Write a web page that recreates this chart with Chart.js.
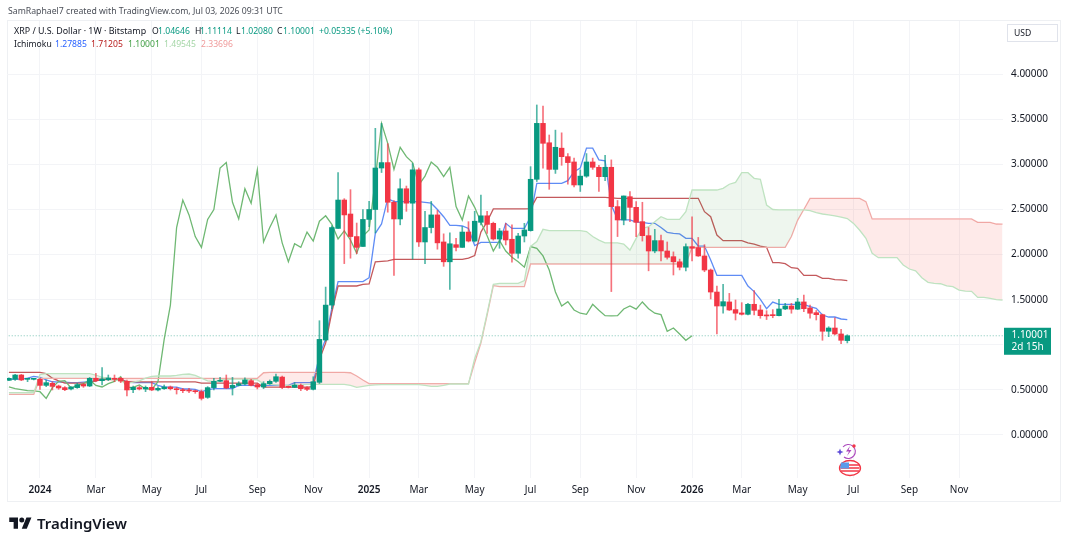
<!DOCTYPE html>
<html>
<head>
<meta charset="utf-8">
<title>XRP / U.S. Dollar</title>
<script src="https://cdn.jsdelivr.net/npm/chart.js@4/dist/chart.umd.min.js"></script>
<style>
  html, body { margin: 0; padding: 0; background: #fff; }
  #page { position: relative; width: 1068px; height: 546px; overflow: hidden; font-family: "Noto Sans", sans-serif; color: #131722; }
  #frame { position: absolute; left: 7px; top: 20px; width: 1052px; height: 480px; border: 1px solid #eef0f3; }
  canvas { position: absolute; left: 0; top: 0; }
  .t { position: absolute; white-space: nowrap; font-size: 8.6px; line-height: 12px; }
  .up { color: #089981; }
  #credit { left: 8px; top: 5px; font-size: 8.7px; color: #4a4e57; }
  #usd { position: absolute; left: 1007px; top: 24px; width: 49px; height: 16px; border: 1px solid #e0e3eb; font-size: 8.6px; line-height: 16px; text-indent: 6px; }
  #logo { position: absolute; left: 9px; top: 515px; }
  #brand { position: absolute; left: 37px; top: 512px; font-size: 15px; line-height: 22px; font-weight: 600; color: #131722; }
  #spark, #flag { position: absolute; }
</style>
</head>
<body>
<div id="page">
  <div id="frame"></div>
  <canvas id="chart" width="1068" height="546"></canvas>

  <div class="t" id="credit">SamRaphael7 created with TradingView.com, Jul 03, 2026 09:31 UTC</div>

  <div class="t" style="left:14px;top:25px;font-size:8.9px">XRP / U.S. Dollar · 1W · Bitstamp</div>
  <div class="t" style="left:152px;top:25px">O</div><div class="t up" style="left:158px;top:25px">1.04646</div>
  <div class="t" style="left:195px;top:25px">H</div><div class="t up" style="left:200px;top:25px">1.11114</div>
  <div class="t" style="left:236px;top:25px">L</div><div class="t up" style="left:241px;top:25px">1.02080</div>
  <div class="t" style="left:277px;top:25px">C</div><div class="t up" style="left:283px;top:25px">1.10001</div>
  <div class="t up" style="left:319px;top:25px">+0.05335 (+5.10%)</div>

  <div class="t" style="left:14px;top:38px">Ichimoku</div>
  <div class="t" style="left:55px;top:38px;color:#2962ff">1.27885</div>
  <div class="t" style="left:91px;top:38px;color:#b71c1c">1.71205</div>
  <div class="t" style="left:128px;top:38px;color:#43a047">1.10001</div>
  <div class="t" style="left:164px;top:38px;color:#a5d6a7">1.49545</div>
  <div class="t" style="left:201px;top:38px;color:#ef9a9a">2.33696</div>

  <div id="usd">USD</div>

  <!-- event badges under the last candles -->
  <svg id="spark" style="left:836px;top:442px" width="22" height="18" viewBox="0 0 22 18">
    <path d="M7 5 A7 7 0 1 1 8 15" fill="none" stroke="#ab47bc" stroke-width="1.1"/>
    <path d="M14 4 L10 9.5 L13 9.5 L11 14 L15.5 8 L12.6 8 Z" fill="#ab47bc"/>
    <path d="M4 6.5 L5 9 L7.5 10 L5 11 L4 13.5 L3 11 L.5 10 L3 9 Z" fill="#5e4bd8"/>
    <circle cx="18" cy="4" r="1.7" fill="#f23645"/>
  </svg>
  <svg id="flag" style="left:838px;top:459px" width="24" height="18" viewBox="0 0 24 18">
    <ellipse cx="12" cy="9" rx="10.5" ry="7.5" fill="#fff" stroke="#f23645" stroke-width="1.3"/>
    <path d="M3 6h18M2.5 9h19M3 12h18" stroke="#f23645" stroke-width="1.3"/>
    <path d="M3 3.5h8v6H2z" fill="#5b9bea"/>
  </svg>

  <svg id="logo" width="23" height="15" viewBox="0 0 36 24">
    <path d="M14 22H7V11H0V4h14v18zM28 22h-8l7.5-18h8L28 22z" fill="#131722"/>
    <circle cx="20" cy="8" r="4" fill="#131722"/>
  </svg>
  <div id="brand">TradingView</div>
</div>

<script>
// time axis: tick positions are week numbers counted from the first candle
const weekTicks = [5, 14, 23, 31, 40, 49, 58, 66, 75, 84, 92, 101, 110, 118, 127, 136, 145, 153];
const timeLabels = ['2024', 'Mar', 'May', 'Jul', 'Sep', 'Nov', '2025', 'Mar', 'May', 'Jul', 'Sep', 'Nov', '2026', 'Mar', 'May', 'Jul', 'Sep', 'Nov'];
const priceTicks = [0, 0.5, 1, 1.5, 2, 2.5, 3, 3.5, 4];

// weekly candles
const opens = [
    .606, .617, .665, .617, .617, .617, .550, .573, .543, .525,
    .510, .525, .561, .543, .628, .602, .613, .628, .628, .595,
    .502, .525, .510, .528, .499, .513, .532, .510, .499, .499,
    .488, .480, .417, .525, .595, .602, .525, .550, .565, .602,
    .558, .532, .569, .595, .642, .536, .528, .550, .525, .506,
    .584, 1.053, 1.44, 2.29, 2.605, 2.45, 2.20, 2.09, 2.39, 2.50,
    2.96, 3.02, 2.58, 2.395, 2.73, 2.57, 2.94, 2.14, 2.30, 2.44,
    2.14, 1.92, 2.11, 2.08, 2.25, 2.15, 2.358, 2.43, 2.347, 2.173,
    2.262, 2.17, 2.014, 2.206, 2.266, 2.835, 3.455, 3.24, 2.945, 3.18,
    3.086, 3.027, 2.772, 2.87, 3.027, 2.968, 2.864, 2.968, 2.532, 2.384,
    2.642, 2.524, 2.365, 2.21, 2.04, 2.155, 2.04, 1.977, 1.92, 1.86,
    2.088, 2.077, 1.985, 1.829, 1.585, 1.43, 1.475, 1.39, 1.353, 1.338,
    1.449, 1.386, 1.33, 1.33, 1.323, 1.397, 1.43, 1.395, 1.475, 1.408,
    1.356, 1.334, 1.15, 1.186, 1.12, 1.04646
];
const highs = [
    .635, .672, .672, .628, .621, .628, .610, .591, .553, .536,
    .536, .573, .573, .638, .683, .746, .665, .665, .639, .610,
    .543, .543, .543, .591, .536, .554, .543, .528, .517, .517,
    .499, .499, .536, .628, .639, .665, .639, .591, .635, .617,
    .573, .591, .610, .676, .653, .543, .580, .565, .536, .646,
    1.267, 1.64, 2.32, 2.91, 2.62, 2.72, 2.35, 2.50, 2.59, 3.40,
    3.455, 3.23, 2.60, 2.84, 2.76, 3.01, 2.96, 2.48, 2.59, 2.49,
    2.23, 2.24, 2.18, 2.31, 2.365, 2.48, 2.66, 2.48, 2.36, 2.29,
    2.347, 2.33, 2.236, 2.347, 2.975, 3.659, 3.648, 3.326, 3.38, 3.35,
    3.12, 3.07, 2.94, 3.12, 3.07, 2.99, 3.10, 3.05, 2.60, 2.65,
    2.70, 2.587, 2.58, 2.30, 2.28, 2.217, 2.14, 2.03, 1.95, 2.12,
    2.42, 2.19, 2.11, 1.84, 1.652, 1.67, 1.57, 1.497, 1.467, 1.46,
    1.60, 1.44, 1.378, 1.39, 1.504, 1.46, 1.46, 1.515, 1.55, 1.44,
    1.38, 1.34, 1.20, 1.30, 1.17, 1.11114
];
const lows = [
    .602, .606, .602, .591, .610, .506, .536, .499, .506, .491,
    .499, .517, .528, .536, .591, .554, .602, .591, .580, .432,
    .469, .499, .480, .491, .488, .506, .499, .454, .469, .469,
    .462, .388, .406, .499, .591, .513, .443, .543, .554, .543,
    .510, .513, .561, .584, .513, .521, .525, .491, .491, .499,
    .57, 1.04, 1.40, 2.29, 1.90, 1.96, 2.01, 2.09, 2.31, 2.24,
    2.91, 2.47, 1.77, 2.33, 2.48, 1.95, 2.09, 1.90, 2.24, 2.06,
    1.87, 1.615, 2.04, 2.08, 2.14, 2.14, 2.33, 2.236, 2.16, 2.07,
    2.107, 1.915, 1.96, 2.14, 2.26, 2.81, 2.957, 2.724, 2.90, 2.99,
    2.78, 2.75, 2.70, 2.857, 2.945, 2.70, 2.82, 1.59, 2.20, 2.33,
    2.365, 2.20, 2.15, 1.82, 2.02, 1.93, 1.95, 1.774, 1.83, 1.82,
    1.93, 1.98, 1.81, 1.508, 1.12, 1.35, 1.38, 1.275, 1.33, 1.33,
    1.33, 1.294, 1.28, 1.30, 1.32, 1.39, 1.35, 1.39, 1.367, 1.294,
    1.275, 1.05, 1.09, 1.11, 1.013, 1.0208
];
const closes = [
    .628, .665, .610, .621, .621, .550, .580, .539, .521, .502,
    .532, .558, .543, .628, .602, .621, .632, .617, .598, .499,
    .528, .510, .528, .499, .517, .532, .513, .502, .491, .488,
    .480, .406, .525, .595, .602, .521, .550, .569, .610, .550,
    .532, .569, .595, .646, .528, .528, .554, .513, .506, .591,
    1.06, 1.44, 2.30, 2.605, 2.44, 2.20, 2.08, 2.39, 2.50, 2.96,
    3.02, 2.58, 2.395, 2.73, 2.57, 2.94, 2.14, 2.30, 2.44, 2.13,
    1.92, 2.12, 2.08, 2.25, 2.15, 2.37, 2.43, 2.335, 2.173, 2.262,
    2.162, 2.014, 2.206, 2.273, 2.835, 3.455, 3.234, 2.945, 3.19, 3.086,
    3.02, 2.772, 2.87, 3.027, 2.968, 2.864, 2.968, 2.532, 2.384, 2.65,
    2.524, 2.358, 2.21, 2.04, 2.155, 2.04, 1.97, 1.92, 1.86, 2.088,
    2.07, 1.985, 1.829, 1.585, 1.43, 1.478, 1.386, 1.35, 1.338, 1.449,
    1.382, 1.323, 1.32, 1.323, 1.397, 1.43, 1.395, 1.475, 1.40, 1.35,
    1.334, 1.15, 1.186, 1.12, 1.05, 1.10001
];

// Ichimoku lines
const conversionLine = [
    .617, .62, .62, .63, .65, .64, .61, .59, .585, .585,
    .58, .58, .585, .59, .60, .62, .62, .62, .62, .59,
    .58, .58, .58, .58, .55, .53, .53, .53, .51, .51,
    .505, .48, .50, .515, .515, .515, .515, .55, .55, .55,
    .545, .55, .55, .55, .55, .55, .58, .58, .58, .58,
    .88, 1.065, 1.405, 1.70, 1.70, 1.70, 1.70, 1.70, 1.744, 2.236,
    2.34, 2.62, 2.587, 2.587, 2.587, 2.587, 2.587, 2.58, 2.57, 2.50,
    2.42, 2.325, 2.325, 2.317, 2.29, 2.10, 2.136, 2.136, 2.136, 2.136,
    2.347, 2.29, 2.29, 2.29, 2.42, 2.79, 2.79, 2.79, 2.79, 2.79,
    2.82, 2.92, 2.96, 3.18, 3.18, 3.05, 3.04, 2.55, 2.39, 2.384,
    2.384, 2.36, 2.358, 2.347, 2.347, 2.30, 2.247, 2.236, 2.23, 2.18,
    2.18, 2.095, 2.095, 1.94, 1.77, 1.77, 1.77, 1.77, 1.77, 1.652,
    1.59, 1.504, 1.40, 1.474, 1.449, 1.449, 1.449, 1.449, 1.449, 1.423,
    1.405, 1.33, 1.308, 1.308, 1.286, 1.27885
];
const baseLine = [
    .695, .695, .695, .695, .695, .695, .68, .63, .60, .575,
    .575, .575, .575, .58, .60, .615, .615, .615, .615, .589,
    .589, .589, .589, .589, .589, .589, .589, .589, .589, .589,
    .589, .576, .576, .576, .576, .576, .576, .576, .576, .576,
    .576, .53, .53, .53, .53, .53, .53, .53, .53, .535,
    .836, 1.02, 1.363, 1.652, 1.652, 1.652, 1.652, 1.67, 1.676, 1.92,
    1.925, 1.93, 1.947, 1.947, 1.947, 1.947, 1.947, 1.947, 1.947, 1.947,
    1.947, 1.947, 1.947, 1.947, 1.96, 1.99, 2.25, 2.365, 2.506, 2.506,
    2.506, 2.506, 2.506, 2.506, 2.51, 2.635, 2.635, 2.635, 2.635, 2.635,
    2.635, 2.635, 2.635, 2.635, 2.635, 2.635, 2.635, 2.63, 2.624, 2.624,
    2.624, 2.624, 2.624, 2.624, 2.624, 2.624, 2.624, 2.624, 2.624, 2.624,
    2.624, 2.624, 2.476, 2.42, 2.217, 2.155, 2.155, 2.155, 2.155, 2.13,
    2.117, 2.095, 2.08, 1.91, 1.91, 1.90, 1.855, 1.848, 1.77, 1.77,
    1.77, 1.737, 1.737, 1.722, 1.719, 1.71205
];
const laggingSpan = [
    .532, .513, .502, .491, .488, .480, .406, .525, .595, .602,
    .521, .550, .569, .610, .550, .532, .569, .595, .646, .528,
    .528, .554, .513, .506, .591, 1.06, 1.44, 2.30, 2.605, 2.44,
    2.20, 2.08, 2.39, 2.50, 2.96, 3.02, 2.58, 2.395, 2.73, 2.57,
    2.94, 2.14, 2.30, 2.44, 2.13, 1.92, 2.12, 2.08, 2.25, 2.15,
    2.37, 2.43, 2.335, 2.173, 2.262, 2.162, 2.014, 2.206, 2.273, 2.835,
    3.455, 3.234, 2.945, 3.19, 3.086, 3.02, 2.772, 2.87, 3.027, 2.968,
    2.864, 2.968, 2.532, 2.384, 2.65, 2.524, 2.358, 2.21, 2.04, 2.155,
    2.04, 1.97, 1.92, 1.86, 2.088, 2.07, 1.985, 1.829, 1.585, 1.43,
    1.478, 1.386, 1.35, 1.338, 1.449, 1.382, 1.323, 1.32, 1.323, 1.397,
    1.43, 1.395, 1.475, 1.40, 1.35, 1.334, 1.15, 1.186, 1.12, 1.05,
    1.10001
];
const leadingSpanA = [
    .47, .47, .47, .47, .47, .67, .68, .68, .68, .68,
    .68, .68, .68, .68, .665, .64, .625, .61, .60, .57,
    .585, .60, .63, .65, .654, .654, .654, .66, .672, .676,
    .66, .63, .60, .59, .61, .615, .62, .62, .62, .615,
    .61, .57, .56, .555, .55, .55, .55, .555, .56, .56,
    .56, .562, .562, .562, .562, .55, .528, .54, .55, .555,
    .558, .558, .558, .558, .558, .558, .558, .55, .54, .54,
    .55, .565, .565, .565, .565, .85, 1.035, 1.349, 1.67, 1.68,
    1.68, 1.68, 1.68, 1.711, 2.09, 2.144, 2.28, 2.266, 2.266, 2.266,
    2.266, 2.266, 2.266, 2.255, 2.20, 2.16, 2.13, 2.13, 2.13, 2.117,
    2.05, 2.18, 2.29, 2.31, 2.365, 2.42, 2.39, 2.39, 2.39, 2.476,
    2.716, 2.716, 2.716, 2.716, 2.716, 2.735, 2.78, 2.80, 2.908, 2.908,
    2.846, 2.834, 2.55, 2.50, 2.495, 2.495, 2.495, 2.495, 2.495, 2.487,
    2.465, 2.45, 2.44, 2.43, 2.415, 2.40, 2.346, 2.27, 2.18, 2.014,
    1.966, 1.966, 1.966, 1.966, 1.885, 1.84, 1.82, 1.744, 1.692, 1.681,
    1.677, 1.652, 1.644, 1.607, 1.596, 1.593, 1.526, 1.526, 1.515, 1.50,
    1.49545
];
const leadingSpanB = [
    .45, .45, .45, .45, .45, .628, .628, .628, .628, .628,
    .628, .628, .628, .628, .628, .628, .628, .628, .628, .628,
    .628, .628, .628, .628, .628, .628, .628, .628, .628, .628,
    .628, .628, .628, .628, .628, .628, .628, .628, .628, .628,
    .628, .69, .695, .695, .695, .695, .695, .695, .695, .695,
    .695, .695, .695, .695, .695, .69, .654, .61, .569, .569,
    .569, .569, .569, .569, .569, .569, .569, .569, .569, .569,
    .569, .569, .569, .569, .569, .80, 1.02, 1.33, 1.655, 1.645,
    1.645, 1.645, 1.645, 1.645, 1.896, 1.896, 1.896, 1.896, 1.896, 1.896,
    1.896, 1.896, 1.896, 1.896, 1.896, 1.896, 1.896, 1.896, 1.896, 1.896,
    1.896, 1.896, 1.896, 1.896, 1.896, 1.896, 1.896, 1.896, 1.896, 1.896,
    2.08, 2.08, 2.08, 2.08, 2.08, 2.08, 2.08, 2.08, 2.08, 2.08,
    2.08, 2.08, 2.08, 2.08, 2.08, 2.08, 2.20, 2.38, 2.50, 2.624,
    2.624, 2.624, 2.624, 2.624, 2.624, 2.624, 2.624, 2.624, 2.587, 2.395,
    2.395, 2.395, 2.395, 2.395, 2.395, 2.395, 2.395, 2.395, 2.395, 2.395,
    2.395, 2.395, 2.395, 2.395, 2.395, 2.395, 2.358, 2.358, 2.358, 2.339,
    2.33696
];

const UP = '#089981';
const DOWN = '#f23645';
const UP_WICK = 'rgba(8,153,129,0.7)';
const DOWN_WICK = 'rgba(242,54,69,0.7)';
const lastClose = closes[closes.length - 1];
const tagLines = [lastClose.toFixed(5), '2d 15h'];

const isUp = closes.map((c, i) => c >= opens[i]);
const points = arr => arr.map((y, x) => ({ x, y }));

function lineSet(label, values, color, extra) {
    return Object.assign({
        type: 'line', label, data: points(values), borderColor: color,
        borderWidth: 1.3, pointRadius: 0, tension: 0, fill: false, order: 2
    }, extra);
}

// last price tag on the price axis
const priceTag = {
    id: 'priceTag',
    afterDraw(chart) {
        const { ctx, chartArea } = chart;
        const y = chart.scales.y.getPixelForValue(lastClose);
        ctx.save();
        ctx.fillStyle = UP;
        ctx.fillRect(chartArea.right + 1, y - 8, 47, 27);
        ctx.fillStyle = '#fff';
        ctx.font = '10px "Noto Sans"';
        ctx.textAlign = 'left';
        ctx.textBaseline = 'middle';
        ctx.fillText(tagLines[0], chartArea.right + 8.5, y - 0.5);
        ctx.fillText(tagLines[1], chartArea.right + 8.5, y + 11);
        ctx.restore();
    }
};

new Chart(document.getElementById('chart'), {
    type: 'bar',
    plugins: [priceTag],
    data: {
        datasets: [
            // the cloud is filled between the two leading spans
            lineSet('Leading Span A', leadingSpanA, '#bfe3c1', {
                fill: { target: '+1', above: 'rgba(67,160,71,0.09)', below: 'rgba(244,67,54,0.11)' }
            }),
            lineSet('Leading Span B', leadingSpanB, '#f3b0ae'),
            lineSet('Lagging Span', laggingSpan, '#6fb873'),
            lineSet('Base Line', baseLine, '#c4595c'),
            lineSet('Conversion Line', conversionLine, '#5f8cf5'),
            lineSet('Last', [lastClose, lastClose], '#7cc4b6', {
                data: [{ x: -1, y: lastClose }, { x: 161, y: lastClose }],
                borderWidth: 1,
                borderDash: [1, 2]
            }),
            {
                label: 'Wicks',
                data: lows.map((l, i) => ({ x: i, y: [l, highs[i]] })),
                backgroundColor: isUp.map(up => (up ? UP_WICK : DOWN_WICK)),
                barThickness: 1,
                grouped: false,
                order: 1
            },
            {
                label: 'Candles',
                data: opens.map((o, i) => ({ x: i, y: [o, closes[i]] })),
                backgroundColor: isUp.map(up => (up ? UP : DOWN)),
                barThickness: 4.8,
                minBarLength: 1,
                grouped: false,
                order: 0
            }
        ]
    },
    options: {
        responsive: false,
        animation: false,
        layout: { padding: { left: 7, top: 21, right: 0, bottom: 46 } },
        plugins: { legend: { display: false }, tooltip: { enabled: false } },
        scales: {
            x: {
                type: 'linear',
                offset: false,
                min: -0.31,
                max: 160.07,
                grid: { color: '#f3f4f7', offset: false, drawTicks: false },
                border: { display: false },
                afterBuildTicks: scale => { scale.ticks = weekTicks.map(value => ({ value })); },
                afterFit: scale => { scale.height = 22; },
                ticks: {
                    autoSkip: false,
                    maxRotation: 0,
                    padding: 6,
                    color: '#131722',
                    font: ctx => ({ family: 'Noto Sans', size: 10, weight: /^20/.test(timeLabels[ctx.index]) ? '600' : '400' }),
                    callback: (value, index) => timeLabels[index]
                }
            },
            y: {
                position: 'right',
                min: -0.477,
                max: 4.59,
                grid: { color: '#f3f4f7', drawTicks: false },
                border: { display: false },
                afterBuildTicks: scale => { scale.ticks = priceTicks.map(value => ({ value })); },
                afterFit: scale => { scale.width = 65; },
                ticks: {
                    autoSkip: false,
                    padding: 8,
                    color: '#131722',
                    font: { family: 'Noto Sans', size: 10 },
                    callback: value => (value === 1 ? '' : value.toFixed(5))
                }
            }
        }
    }
});
</script>
</body>
</html>
